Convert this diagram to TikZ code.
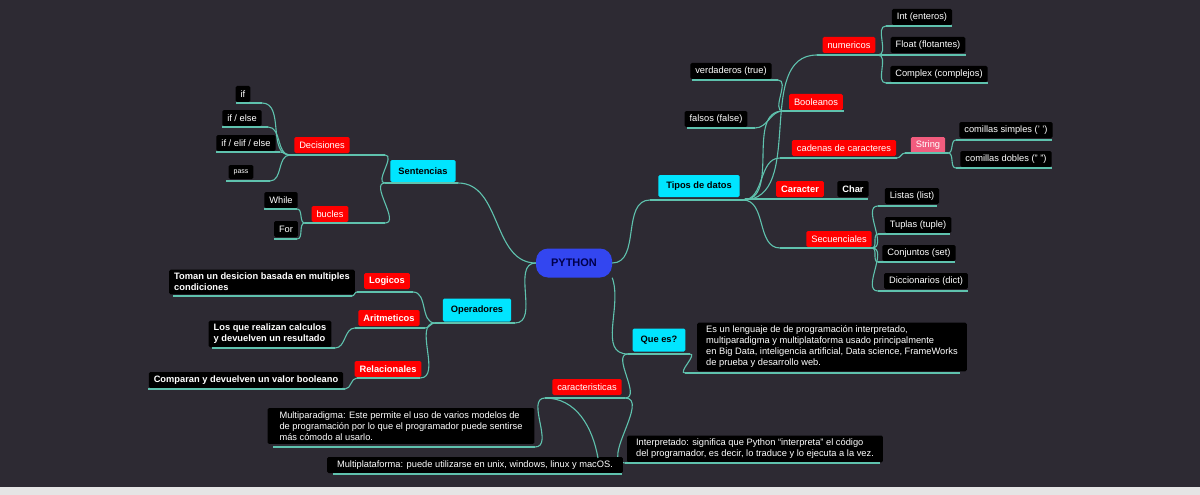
\documentclass[tikz,border=0pt]{standalone}
\usepackage{fontspec}
\setmainfont{Liberation Sans}
\begin{document}
\begin{tikzpicture}[x=1pt,y=-1pt,
  link/.style={draw=teal0,line width=1.1pt},
  bx/.style={fill=black,text=white,rounded corners=1.5pt,inner sep=3.5pt,inner xsep=5pt,minimum height=16pt,font=\fontsize{9.3}{11}\selectfont},
  redbx/.style={bx,fill=red0},
  cyanbx/.style={bx,fill=cyan0,text=black,font=\fontsize{9.3}{11}\selectfont\bfseries,minimum height=22pt,inner xsep=8pt},
  pinkbx/.style={bx,fill=pink0}]
\definecolor{bg}{HTML}{2D2A33}
\definecolor{teal0}{HTML}{5FC2AE}
\definecolor{red0}{HTML}{FF0000}
\definecolor{cyan0}{HTML}{00E5FF}
\definecolor{pink0}{HTML}{F25C7E}
\definecolor{blue0}{HTML}{3346F0}
\useasboundingbox (0,0) rectangle (1200,495);
\fill[bg] (0,0) rectangle (1200,487);
\fill[black!10] (0,487) rectangle (1200,495);
\newcommand\ul[4]{\coordinate (#1L) at (#2,#4); \coordinate (#1R) at (#3,#4); \draw[link] (#1L)--(#1R);}
\newcommand\lr[2]{\draw[link] (#1) to[out=0,in=180] (#2);}
% center
\node[fill=blue0,rounded corners=12pt,minimum width=76pt,minimum height=29pt,text=blue!30!black,font=\fontsize{11}{13}\selectfont\bfseries] (py) at (574,263) {PYTHON};
% Tipos de datos
\node[cyanbx] (tipos) at (699,186) {Tipos de datos}; \ul{tipos}{650}{743}{200}
\node[redbx] (num) at (849,45) {numericos}; \ul{num}{817}{878}{55}
\node[bx] (int) at (922,17) {Int (enteros)}; \ul{int}{886}{952}{26}
\node[bx] (flo) at (928,45) {Float (flotantes)}; \ul{flo}{886}{966}{55}
\node[bx] (cpx) at (939,74) {Complex (complejos)}; \ul{cpx}{886}{988}{83}
\node[redbx] (boo) at (816,102) {Booleanos}; \ul{boo}{783}{844}{111}
\node[bx] (ver) at (731,71) {verdaderos (true)}; \ul{ver}{692}{778}{80}
\node[bx] (fal) at (716,119) {falsos (false)}; \ul{fal}{687}{755}{128}
\node[redbx] (cad) at (844,148) {cadenas de caracteres}; \ul{cad}{780}{897}{158}
\node[pinkbx] (str) at (928,145) {String}; \ul{str}{905}{948}{153}
\node[bx] (cs) at (1006,130) {comillas simples (' ')}; \ul{cs}{956}{1052}{140}
\node[bx] (cd) at (1006,159) {comillas dobles (" ")}; \ul{cd}{956}{1052}{168}
\node[redbx,font=\fontsize{9.3}{11}\selectfont\bfseries] (car) at (800,189) {Caracter};
\node[bx,font=\fontsize{9.3}{11}\selectfont\bfseries] (chr) at (853,189) {Char}; \ul{car}{745}{868}{199}
\node[redbx] (sec) at (839,239) {Secuenciales}; \ul{sec}{780}{872}{248}
\node[bx] (lis) at (912,196) {Listas (list)}; \ul{lis}{878}{937}{206}
\node[bx] (tup) at (918,225) {Tuplas (tuple)}; \ul{tup}{878}{950}{234}
\node[bx] (con) at (919,253) {Conjuntos (set)}; \ul{con}{878}{955}{262}
\node[bx] (dic) at (926,281) {Diccionarios (dict)}; \ul{dic}{878}{968}{291}
\draw[link] (py.east) to[out=0,in=180] (tiposL);
\lr{tiposR}{numL}\lr{tiposR}{booL}\lr{tiposR}{cadL}\lr{tiposR}{carL}\lr{tiposR}{secL}
\lr{numR}{intL}\lr{numR}{floL}\lr{numR}{cpxL}
\draw[link] (booL) to[out=180,in=0] (verR); \draw[link] (booL) to[out=180,in=0] (falR);
\lr{cadR}{strL}\lr{strR}{csL}\lr{strR}{cdL}
\lr{secR}{lisL}\lr{secR}{tupL}\lr{secR}{conL}\lr{secR}{dicL}
% Que es
\node[cyanbx,minimum height=23pt] (que) at (659,340) {Que es?}; \ul{que}{628}{690}{354}
\node[bx,align=left,inner xsep=9pt] (es) at (832,347) {Es un lenguaje de de programación interpretado,\\multiparadigma y multiplataforma usado principalmente\\en Big Data, inteligencia artificial, Data science, FrameWorks\\de prueba y desarrollo web.}; \ul{es}{685}{960}{373}
\draw[link] (py.south east) to[out=-70,in=180] (queL);
\lr{queR}{esL}
\node[redbx] (carac) at (587,387) {caracteristicas}; \ul{carac}{545}{625}{398}
\draw[link] (queL) to[out=180,in=0] (caracR);
\node[bx,align=left,inner xsep=9pt] (int2) at (755,449) {Interpretado: significa que Python “interpreta” el código\\del programador, es decir, lo traduce y lo ejecuta a la vez.}; \ul{int2}{625}{880}{463}
\lr{caracR}{int2L}
\node[bx,align=left,inner xsep=12pt] (mpar) at (401,426) {Multiparadigma: Este permite el uso de varios modelos de\\de programación por lo que el programador puede sentirse\\más cómodo al usarlo.}; \ul{mpar}{273}{535}{447}
\node[bx,inner xsep=10pt] (mpla) at (475,465) {Multiplataforma: puede utilizarse en unix, windows, linux y macOS.}; \ul{mpla}{333}{622}{474}
\draw[link] (caracL) to[out=180,in=0] (mparR);
\coordinate (mplaT) at (598,458);
\draw[link] (caracL) to[out=0,in=100] (mplaT);
% Sentencias
\node[cyanbx] (sen) at (423,171) {Sentencias}; \ul{sen}{385}{458}{183}
\draw[link] (py.west) to[out=180,in=0] (senR);
\node[redbx] (dec) at (322,145) {Decisiones}; \ul{dec}{290}{385}{155}
\node[bx] (if) at (243,94) {if}; \ul{if}{236}{262}{103}
\node[bx] (ife) at (242,118) {if / else}; \ul{ife}{222}{268}{127}
\node[bx] (ifel) at (246,143) {if / elif / else}; \ul{ifel}{216}{280}{152}
\node[bx,font=\fontsize{7}{8}\selectfont,minimum height=14pt] (pass) at (241,172) {pass}; \ul{pass}{226}{270}{181}
\node[redbx] (buc) at (330,214) {bucles}; \ul{buc}{305}{385}{223}
\node[bx] (whi) at (281,200) {While}; \ul{whi}{264}{297}{209}
\node[bx] (for) at (286,229) {For}; \ul{for}{274}{297}{239}
\draw[link] (senL) to[out=180,in=0] (decR); \draw[link] (senL) to[out=180,in=0] (bucR);
\foreach \c in {if,ife,ifel,pass} \draw[link] (decL) to[out=180,in=0] (\c R);
\draw[link] (bucL) to[out=180,in=0] (whiR); \draw[link] (bucL) to[out=180,in=0] (forR);
% Operadores
\node[cyanbx,minimum height=23pt] (ope) at (477,310) {Operadores}; \ul{ope}{435}{515}{323}
\draw[link] (py.west) to[out=180,in=0] (opeR);
\tikzset{bb/.style={bx,font=\fontsize{9.3}{11}\selectfont\bfseries}}
\node[redbx,font=\fontsize{9.3}{11}\selectfont\bfseries] (log) at (387,281) {Logicos}; \ul{log}{357}{413}{292}
\node[bb,align=left,inner xsep=5pt] (tom) at (262,282) {Toman un desicion basada en multiples\\condiciones}; \ul{tom}{173}{352}{296}
\node[redbx,font=\fontsize{9.3}{11}\selectfont\bfseries] (ari) at (389,318) {Aritmeticos}; \ul{ari}{355}{425}{328}
\node[bb,align=left,inner xsep=5pt] (los) at (270,334) {Los que realizan calculos\\y devuelven un resultado}; \ul{los}{212}{335}{348}
\node[redbx,font=\fontsize{9.3}{11}\selectfont\bfseries] (rel) at (388,369) {Relacionales}; \ul{rel}{357}{420}{378}
\node[bb,inner xsep=5pt] (com) at (246,380) {Comparan y devuelven un valor booleano}; \ul{com}{148}{345}{389}
\foreach \c in {log,ari,rel} \draw[link] (opeL) to[out=180,in=0] (\c R);
\draw[link] (logL) to[out=180,in=0] (tomR);
\draw[link] (ariL) to[out=180,in=0] (losR);
\draw[link] (relL) to[out=180,in=0] (comR);
\end{tikzpicture}
\end{document}
